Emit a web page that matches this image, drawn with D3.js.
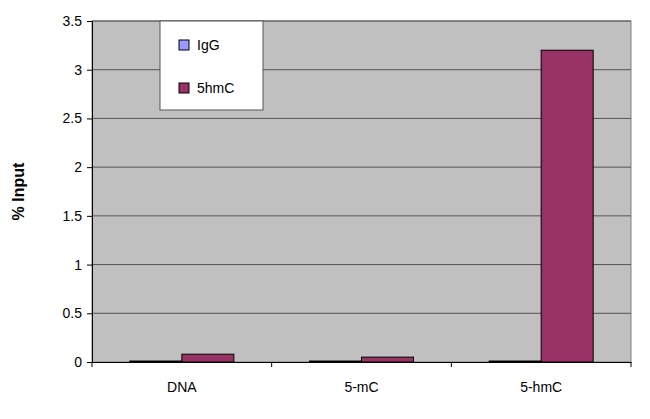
<!DOCTYPE html>
<html><head><meta charset="utf-8">
<script src="https://cdn.jsdelivr.net/npm/d3@7"></script>
<style>body{margin:0;background:#fff}text{font-family:"Liberation Sans",Arial,sans-serif}</style>
</head><body><svg width="650" height="419"></svg>
<script>
const categories = ['DNA', '5-mC', '5-hmC']
const seriesNames = ['IgG', '5hmC']
const igg = [0.01, 0.01, 0.01]
const hmc = [0.08, 0.05, 3.2]
const yTicks = [0, 0.5, 1, 1.5, 2, 2.5, 3, 3.5]
const colors = ['#9999ff', '#993366']

const svg = d3.select('svg')
const plotLeft = 92, plotRight = 631, plotTop = 21, plotBottom = 362

const x = d3.scaleBand().domain(categories).range([plotLeft, plotRight])
const inner = d3.scaleBand().domain(seriesNames).range([0, 104])
const y = d3.scaleLinear().domain([0, 3.5]).range([plotBottom, plotTop])

svg.append('rect').attr('x', plotLeft).attr('y', plotTop).attr('width', plotRight - plotLeft).attr('height', plotBottom - plotTop)
   .attr('fill', '#c0c0c0').attr('stroke', '#808080')

svg.append('g').selectAll('line').data(yTicks.slice(1)).join('line')
   .attr('x1', plotLeft).attr('x2', plotRight).attr('y1', d => y(d)).attr('y2', d => y(d))
   .attr('stroke', '#555')

const groups = svg.append('g').selectAll('g').data(categories).join('g')
   .attr('transform', d => `translate(${x(d) + (x.bandwidth() - 104) / 2},0)`)
groups.selectAll('rect').data((d, i) => [igg[i], hmc[i]]).join('rect')
   .attr('x', (d, j) => inner(seriesNames[j]))
   .attr('width', inner.bandwidth())
   .attr('y', d => y(d)).attr('height', d => plotBottom - y(d))
   .attr('fill', (d, j) => colors[j]).attr('stroke', '#000').attr('stroke-width', 1)

const yAxis = svg.append('g').attr('transform', `translate(${plotLeft},0)`)
   .call(d3.axisLeft(y).tickValues(yTicks).tickSize(5).tickSizeOuter(0).tickFormat(d3.format('')))
const xAxis = svg.append('g').attr('transform', `translate(0,${plotBottom})`)
   .call(d3.axisBottom(x).tickSize(0).tickPadding(20))
xAxis.selectAll('.tick line').remove()
xAxis.selectAll('line.sep').data(d3.range(categories.length + 1)).join('line').attr('class', 'sep')
   .attr('x1', i => plotLeft + i * x.step()).attr('x2', i => plotLeft + i * x.step())
   .attr('y1', 0).attr('y2', 5).attr('stroke', '#000')
;[yAxis, xAxis].forEach(a => {
  a.select('.domain').attr('stroke', '#000')
  a.selectAll('text').attr('font-size', 14).attr('fill', '#000')
})
yAxis.selectAll('.tick line').attr('stroke', '#000')
yAxis.selectAll('text').attr('dx', -2)

svg.append('text').text('% Input').attr('transform', `translate(24,${(plotTop + plotBottom) / 2})rotate(-90)`)
   .attr('text-anchor', 'middle').attr('font-weight', 'bold').attr('font-size', 16)

const lg = svg.append('g')
lg.append('rect').attr('x', 160).attr('y', 21).attr('width', 103).attr('height', 89)
  .attr('fill', '#fff').attr('stroke', '#555')
seriesNames.forEach((n, i) => {
  lg.append('rect').attr('x', 179).attr('y', 40 + i * 43).attr('width', 10).attr('height', 10)
    .attr('fill', colors[i]).attr('stroke', '#000')
  lg.append('text').text(n).attr('x', 197).attr('y', 50 + i * 43).attr('font-size', 14)
})
</script></body></html>
